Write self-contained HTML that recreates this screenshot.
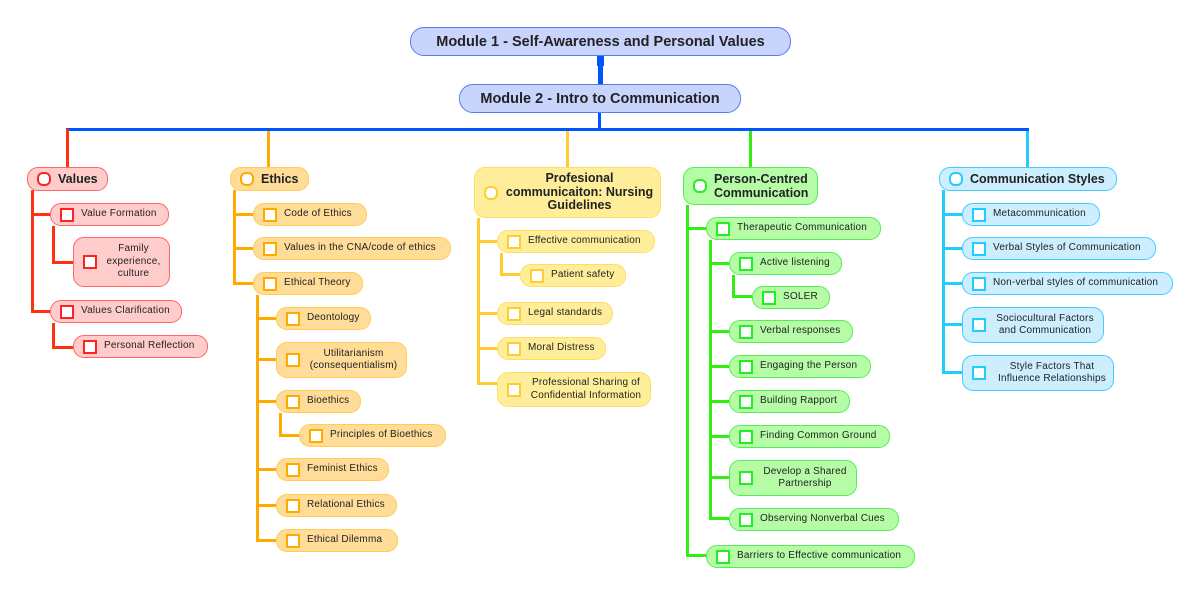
<!DOCTYPE html>
<html><head><meta charset="utf-8"><style>
body{margin:0;width:1200px;height:595px;background:#fff;position:relative;overflow:hidden;font-family:"Liberation Sans",sans-serif;}
.n{position:absolute;box-sizing:border-box;border:1.5px solid;border-radius:11px;display:flex;align-items:center;padding-left:9px;font-size:10px;color:#222;letter-spacing:0.2px;line-height:12.5px}
.n b{display:inline-block;width:10px;height:10px;border:2px solid;background:#fff;flex:none;margin-right:7px}
.n span{flex:1}
.n .c{text-align:center;padding-right:6px}
.t{font-size:12.5px;font-weight:bold;letter-spacing:0}
.t b{border-radius:6px;width:10px;height:10px}
.r{background:#fcc;border-color:#f66}.r b{border-color:#f22}
.o{background:#fd9;border-color:#fc5}.o b{border-color:#fa0}
.y{background:#fe9;border-color:#fd6}.y b{border-color:#fc3}
.g{background:#b6fca6;border-color:#5e5}.g b{border-color:#2e2}
.c2{background:#cef;border-color:#4cf}.c2 b{border-color:#2cf}
.m{position:absolute;box-sizing:border-box;background:#c8d4fb;border:1.5px solid #5a7cf0;border-radius:14px;font-weight:bold;font-size:14.5px;display:flex;align-items:center;justify-content:center;color:#222}
i{position:absolute;display:block}
.lr{background:#f31}.lo{background:#fa0}.ly{background:#fc3}.lg{background:#3e1}.lc{background:#2cf}.lb{background:#05f}
</style></head><body>
<i class="lb" style="left:597px;top:56px;width:7px;height:10px"></i>
<i class="lb" style="left:598px;top:64px;width:5px;height:20px"></i>
<i class="lb" style="left:598px;top:113px;width:3px;height:17px"></i>
<i class="lb" style="left:66px;top:128px;width:963px;height:3px"></i>
<i class="lr" style="left:66px;top:129px;width:3px;height:39px"></i>
<i class="lo" style="left:267px;top:131px;width:3px;height:37px"></i>
<i class="ly" style="left:566px;top:131px;width:3px;height:36px"></i>
<i class="lg" style="left:749px;top:131px;width:3px;height:36px"></i>
<i class="lc" style="left:1026px;top:131px;width:3px;height:36px"></i>

<div class="m" style="left:410px;top:27px;width:381px;height:29px">Module 1 - Self-Awareness and Personal Values</div>
<div class="m" style="left:459px;top:84px;width:282px;height:29px">Module 2 - Intro to Communication</div>

<i class="lr" style="left:31px;top:190px;width:3px;height:123px"></i>
<i class="lr" style="left:31px;top:213px;width:20px;height:3px"></i>
<i class="lr" style="left:31px;top:310px;width:20px;height:3px"></i>
<i class="lr" style="left:52px;top:226px;width:3px;height:38px"></i>
<i class="lr" style="left:52px;top:261px;width:22px;height:3px"></i>
<i class="lr" style="left:52px;top:323px;width:3px;height:26px"></i>
<i class="lr" style="left:52px;top:346px;width:22px;height:3px"></i>
<div class="n r t" style="left:27px;top:167px;width:81px;height:24px"><b></b><span>Values</span></div>
<div class="n r" style="left:50px;top:203px;width:119px;height:23px"><b></b><span>Value Formation</span></div>
<div class="n r" style="left:73px;top:237px;width:97px;height:50px"><b></b><span class="c">Family experience, culture</span></div>
<div class="n r" style="left:50px;top:300px;width:132px;height:23px"><b></b><span>Values Clarification</span></div>
<div class="n r" style="left:73px;top:335px;width:135px;height:23px"><b></b><span>Personal Reflection</span></div>

<i class="lo" style="left:233px;top:190px;width:3px;height:95px"></i>
<i class="lo" style="left:233px;top:213px;width:20px;height:3px"></i>
<i class="lo" style="left:233px;top:247px;width:20px;height:3px"></i>
<i class="lo" style="left:233px;top:282px;width:20px;height:3px"></i>
<i class="lo" style="left:256px;top:295px;width:3px;height:246px"></i>
<i class="lo" style="left:256px;top:317px;width:20px;height:3px"></i>
<i class="lo" style="left:256px;top:358px;width:20px;height:3px"></i>
<i class="lo" style="left:256px;top:400px;width:20px;height:3px"></i>
<i class="lo" style="left:256px;top:468px;width:20px;height:3px"></i>
<i class="lo" style="left:256px;top:504px;width:20px;height:3px"></i>
<i class="lo" style="left:256px;top:539px;width:20px;height:3px"></i>
<i class="lo" style="left:279px;top:413px;width:3px;height:24px"></i>
<i class="lo" style="left:279px;top:434px;width:20px;height:3px"></i>
<div class="n o t" style="left:230px;top:167px;width:79px;height:24px"><b></b><span>Ethics</span></div>
<div class="n o" style="left:253px;top:203px;width:114px;height:23px"><b></b><span>Code of Ethics</span></div>
<div class="n o" style="left:253px;top:237px;width:198px;height:23px"><b></b><span>Values in the CNA/code of ethics</span></div>
<div class="n o" style="left:253px;top:272px;width:110px;height:23px"><b></b><span>Ethical Theory</span></div>
<div class="n o" style="left:276px;top:307px;width:95px;height:23px"><b></b><span>Deontology</span></div>
<div class="n o" style="left:276px;top:342px;width:131px;height:36px"><b></b><span class="c">Utilitarianism (consequentialism)</span></div>
<div class="n o" style="left:276px;top:390px;width:85px;height:23px"><b></b><span>Bioethics</span></div>
<div class="n o" style="left:299px;top:424px;width:147px;height:23px"><b></b><span>Principles of Bioethics</span></div>
<div class="n o" style="left:276px;top:458px;width:113px;height:23px"><b></b><span>Feminist Ethics</span></div>
<div class="n o" style="left:276px;top:494px;width:121px;height:23px"><b></b><span>Relational Ethics</span></div>
<div class="n o" style="left:276px;top:529px;width:122px;height:23px"><b></b><span>Ethical Dilemma</span></div>

<i class="ly" style="left:477px;top:218px;width:3px;height:167px"></i>
<i class="ly" style="left:477px;top:240px;width:20px;height:3px"></i>
<i class="ly" style="left:477px;top:312px;width:20px;height:3px"></i>
<i class="ly" style="left:477px;top:347px;width:20px;height:3px"></i>
<i class="ly" style="left:477px;top:382px;width:20px;height:3px"></i>
<i class="ly" style="left:500px;top:253px;width:3px;height:23px"></i>
<i class="ly" style="left:500px;top:273px;width:20px;height:3px"></i>
<div class="n y t" style="left:474px;top:167px;width:187px;height:51px"><b></b><span class="c" style="line-height:13.5px">Profesional communicaiton: Nursing Guidelines</span></div>
<div class="n y" style="left:497px;top:230px;width:158px;height:23px"><b></b><span>Effective communication</span></div>
<div class="n y" style="left:520px;top:264px;width:106px;height:23px"><b></b><span>Patient safety</span></div>
<div class="n y" style="left:497px;top:302px;width:116px;height:23px"><b></b><span>Legal standards</span></div>
<div class="n y" style="left:497px;top:337px;width:109px;height:23px"><b></b><span>Moral Distress</span></div>
<div class="n y" style="left:497px;top:372px;width:154px;height:35px"><b></b><span class="c">Professional Sharing of Confidential Information</span></div>

<i class="lg" style="left:686px;top:205px;width:3px;height:352px"></i>
<i class="lg" style="left:686px;top:227px;width:20px;height:3px"></i>
<i class="lg" style="left:686px;top:554px;width:20px;height:3px"></i>
<i class="lg" style="left:709px;top:240px;width:3px;height:280px"></i>
<i class="lg" style="left:709px;top:262px;width:20px;height:3px"></i>
<i class="lg" style="left:709px;top:330px;width:20px;height:3px"></i>
<i class="lg" style="left:709px;top:365px;width:20px;height:3px"></i>
<i class="lg" style="left:709px;top:400px;width:20px;height:3px"></i>
<i class="lg" style="left:709px;top:435px;width:20px;height:3px"></i>
<i class="lg" style="left:709px;top:476px;width:20px;height:3px"></i>
<i class="lg" style="left:709px;top:517px;width:20px;height:3px"></i>
<i class="lg" style="left:732px;top:275px;width:3px;height:23px"></i>
<i class="lg" style="left:732px;top:295px;width:20px;height:3px"></i>
<div class="n g t" style="left:683px;top:167px;width:135px;height:38px"><b></b><span style="line-height:14px">Person-Centred Communication</span></div>
<div class="n g" style="left:706px;top:217px;width:175px;height:23px"><b></b><span>Therapeutic Communication</span></div>
<div class="n g" style="left:729px;top:252px;width:113px;height:23px"><b></b><span>Active listening</span></div>
<div class="n g" style="left:752px;top:286px;width:78px;height:23px"><b></b><span>SOLER</span></div>
<div class="n g" style="left:729px;top:320px;width:124px;height:23px"><b></b><span>Verbal responses</span></div>
<div class="n g" style="left:729px;top:355px;width:142px;height:23px"><b></b><span>Engaging the Person</span></div>
<div class="n g" style="left:729px;top:390px;width:121px;height:23px"><b></b><span>Building Rapport</span></div>
<div class="n g" style="left:729px;top:425px;width:161px;height:23px"><b></b><span>Finding Common Ground</span></div>
<div class="n g" style="left:729px;top:460px;width:128px;height:36px"><b></b><span class="c">Develop a Shared Partnership</span></div>
<div class="n g" style="left:729px;top:508px;width:170px;height:23px"><b></b><span>Observing Nonverbal Cues</span></div>
<div class="n g" style="left:706px;top:545px;width:209px;height:23px"><b></b><span>Barriers to Effective communication</span></div>

<i class="lc" style="left:942px;top:190px;width:3px;height:184px"></i>
<i class="lc" style="left:942px;top:213px;width:20px;height:3px"></i>
<i class="lc" style="left:942px;top:247px;width:20px;height:3px"></i>
<i class="lc" style="left:942px;top:282px;width:20px;height:3px"></i>
<i class="lc" style="left:942px;top:323px;width:20px;height:3px"></i>
<i class="lc" style="left:942px;top:371px;width:20px;height:3px"></i>
<div class="n c2 t" style="left:939px;top:167px;width:178px;height:24px"><b></b><span>Communication Styles</span></div>
<div class="n c2" style="left:962px;top:203px;width:138px;height:23px"><b></b><span>Metacommunication</span></div>
<div class="n c2" style="left:962px;top:237px;width:194px;height:23px"><b></b><span>Verbal Styles of Communication</span></div>
<div class="n c2" style="left:962px;top:272px;width:211px;height:23px"><b></b><span>Non-verbal styles of communication</span></div>
<div class="n c2" style="left:962px;top:307px;width:142px;height:36px"><b></b><span class="c">Sociocultural Factors and Communication</span></div>
<div class="n c2" style="left:962px;top:355px;width:152px;height:36px"><b></b><span class="c" style="padding-right:2px">Style Factors That Influence Relationships</span></div>
</body></html>
